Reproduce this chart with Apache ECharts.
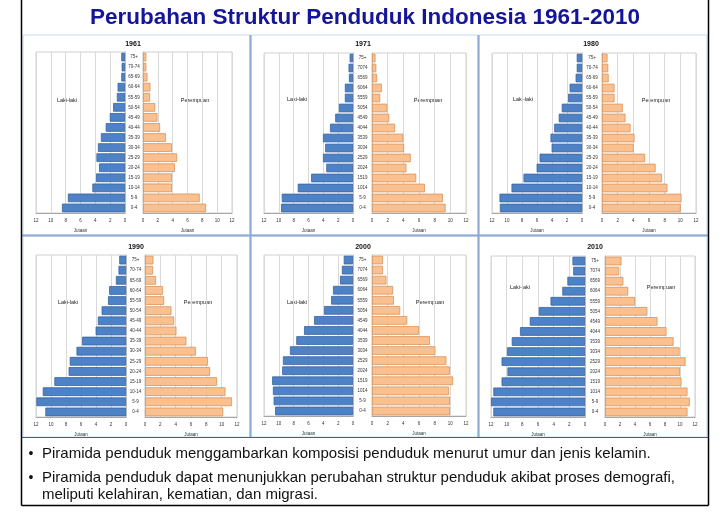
<!DOCTYPE html>
<html><head><meta charset="utf-8">
<script src="https://cdn.jsdelivr.net/npm/echarts@6/dist/echarts.min.js"></script>
<style>html,body{margin:0;padding:0;background:#fff}#c{width:728px;height:515px}</style>
</head><body><div id="c"></div>
<script>
// Age groups, bottom (0-4) to top (75+)
const catsDash = ['0-4','5-9','10-14','15-19','20-24','25-29','30-34','35-39','40-44','45-49','50-54','55-59','60-64','65-69','70-74','75+'];
const catsNoDash = ['0-4','5-9','1014','1519','2024','2529','3034','3539','4044','4549','5054','5559','6064','6569','7074','75+'];
const ticks = ['0','2','4','6','8','10','12'];
// Population in millions (Jutaan)
const m1961 = [8.5,7.7,4.4,3.9,3.5,3.85,3.65,3.25,2.6,2.05,1.6,1.1,1.0,0.5,0.45,0.5];
const f1961 = [8.5,7.65,3.9,3.9,4.3,4.6,3.9,3.1,2.3,1.95,1.65,0.95,1.0,0.6,0.45,0.45];
const m1971 = [9.7,9.6,7.45,5.65,3.6,4.05,3.75,4.05,3.1,2.4,1.9,1.1,1.1,0.55,0.6,0.45];
const f1971 = [9.4,9.05,6.75,5.65,4.4,4.95,4.1,4.0,2.95,2.2,1.95,1.05,1.25,0.65,0.55,0.45];
const m1980 = [10.95,11.0,9.4,7.8,6.05,5.65,4.05,4.2,3.7,3.1,2.7,1.85,1.65,0.85,0.7,0.7];
const f1980 = [10.05,10.15,8.35,7.65,6.85,5.5,4.05,4.15,3.65,3.0,2.65,1.6,1.6,0.85,0.8,0.7];
const m1990 = [10.75,11.95,11.1,9.55,7.65,7.5,6.6,5.85,4.05,3.75,3.25,2.4,2.25,1.35,1.0,0.9];
const f1990 = [10.2,11.35,10.5,9.4,8.5,8.2,6.65,5.4,4.1,3.8,3.45,2.5,2.35,1.45,1.05,1.1];
const m2000 = [10.5,10.7,10.8,10.9,9.55,9.45,8.5,7.65,6.6,5.25,3.9,2.95,2.7,1.75,1.5,1.25];
const f2000 = [9.95,9.95,9.85,10.35,9.95,9.5,8.1,7.4,6.0,4.5,3.6,2.8,2.7,1.85,1.4,1.4];
const m2010 = [11.7,12.0,11.7,10.65,9.9,10.65,9.95,9.35,8.3,7.05,5.9,4.4,2.9,2.25,1.5,1.6];
const f2010 = [11.0,11.3,11.0,10.2,10.0,10.75,9.95,9.15,8.2,7.0,5.65,4.0,3.1,2.45,1.9,2.2];
const years = ['1961','1971','1980','1990','2000','2010'];
const titleText = 'Perubahan Struktur Penduduk Indonesia 1961-2010';
const bullets = [
 'Piramida penduduk menggambarkan komposisi penduduk menurut umur dan jenis kelamin.',
 'Piramida penduduk dapat menunjukkan perubahan struktur penduduk akibat proses demografi,',
 'meliputi kelahiran, kematian, dan migrasi.'
];

const panels = [
 {y:years[0], cats:catsDash,   m:m1961, f:f1961, L:[36,125],  R:[143,232], top:52,  bot:213, tx:133, ty:44,  ll:[67,100],  pp:[195,100]},
 {y:years[1], cats:catsNoDash, m:m1971, f:f1971, L:[264,353], R:[372,466], top:53,  bot:213, tx:363, ty:44,  ll:[297,99],  pp:[428,100]},
 {y:years[2], cats:catsDash,   m:m1980, f:f1980, L:[492,582], R:[602,696], top:53,  bot:213, tx:591, ty:44,  ll:[523,99],  pp:[656,100]},
 {y:years[3], cats:catsDash,   m:m1990, f:f1990, L:[36,126],  R:[145,237], top:255, bot:417, tx:136, ty:247, ll:[68,302],  pp:[198,302]},
 {y:years[4], cats:catsNoDash, m:m2000, f:f2000, L:[264,353], R:[372,466], top:255, bot:416, tx:363, ty:247, ll:[297,302], pp:[430,302]},
 {y:years[5], cats:catsNoDash, m:m2010, f:f2010, L:[491,585], R:[605,695], top:256, bot:417, tx:595, ty:247, ll:[520,287], pp:[661,287]}
];

const F = 'Liberation Sans';
const grid=[], xAxis=[], yAxis=[], series=[], graphic=[];
const gridColor = '#d9d9d9';
panels.forEach((p,i)=>{
  const gi = i*2;
  grid.push({left:p.L[0], width:p.L[1]-p.L[0], top:p.top, height:p.bot-p.top});
  grid.push({left:p.R[0], width:p.R[1]-p.R[0], top:p.top, height:p.bot-p.top});
  const gap = p.R[0]-p.L[1];
  [0,1].forEach(k=>{
    xAxis.push({gridIndex:gi+k, type:'value', min:0, max:12, interval:2, inverse:k===0,
      name:'Jutaan', nameLocation:'middle', nameGap:15, nameTextStyle:{fontSize:4.5, color:'#333', fontFamily:F},
      axisLine:{show:true, lineStyle:{color:'#a6a6a6', width:1}},
      axisTick:{show:false},
      axisLabel:{fontSize:4.5, color:'#333', margin:5, fontFamily:F, formatter:v=>ticks[v/2]},
      splitLine:{show:true, lineStyle:{color:gridColor, width:1}}});
    yAxis.push({gridIndex:gi+k, type:'category', data:p.cats, position:k===0?'right':'left',
      axisLine:{show:true, lineStyle:{color:'#bfbfbf'}}, axisTick:{show:false},
      axisLabel:{show:k===0, fontSize:4.5, color:'#333', align:'center', margin:gap/2, fontFamily:F}});
  });
  series.push({type:'bar', xAxisIndex:gi, yAxisIndex:gi, data:p.m, barCategoryGap:'14%',
    itemStyle:{color:'#4d82c6', borderColor:'#3a64a0', borderWidth:0.8}, silent:true});
  series.push({type:'bar', xAxisIndex:gi+1, yAxisIndex:gi+1, data:p.f, barCategoryGap:'14%',
    itemStyle:{color:'#fac08f', borderColor:'#d9935a', borderWidth:0.8}, silent:true});
  graphic.push({type:'rect', shape:{x:p.L[0], y:p.top, width:p.L[1]-p.L[0], height:p.bot-p.top}, style:{fill:null, stroke:'#d0d0d0', lineWidth:1}, silent:true, z:-1});
  graphic.push({type:'rect', shape:{x:p.R[0], y:p.top, width:p.R[1]-p.R[0], height:p.bot-p.top}, style:{fill:null, stroke:'#d0d0d0', lineWidth:1}, silent:true, z:-1});
  graphic.push({type:'text', x:p.tx, y:p.ty, style:{text:p.y, font:'bold 7px '+F, fill:'#111', textAlign:'center', textVerticalAlign:'middle'}});
  graphic.push({type:'text', x:p.ll[0], y:p.ll[1], style:{text:'Laki-laki', font:'5.5px '+F, fill:'#222', textAlign:'center', textVerticalAlign:'middle'}});
  graphic.push({type:'text', x:p.pp[0], y:p.pp[1], style:{text:'Perempuan', font:'5.5px '+F, fill:'#222', textAlign:'center', textVerticalAlign:'middle'}});
});

[[23,35,227,200],[251,35,227,200],[479,35,228,200],[23,236,227,201],[251,236,227,201],[479,236,228,201]].forEach(r=>{
  graphic.push({type:'rect', shape:{x:r[0], y:r[1], width:r[2], height:r[3]}, style:{fill:null, stroke:'#c6d9f0', lineWidth:1}, silent:true, z:-2});
});
graphic.push({type:'line', shape:{x1:250.5,y1:35,x2:250.5,y2:437}, style:{stroke:'#8eaad6', lineWidth:2}, silent:true});
graphic.push({type:'line', shape:{x1:478.5,y1:35,x2:478.5,y2:437}, style:{stroke:'#8eaad6', lineWidth:2}, silent:true});
graphic.push({type:'line', shape:{x1:22,y1:235.5,x2:708,y2:235.5}, style:{stroke:'#8eaad6', lineWidth:2}, silent:true});
graphic.push({type:'line', shape:{x1:22,y1:437.5,x2:708,y2:437.5}, style:{stroke:'#3f5f9f', lineWidth:1.2}, silent:true});
graphic.push({type:'line', shape:{x1:21.5,y1:0,x2:21.5,y2:505.5}, style:{stroke:'#000', lineWidth:1.5}, silent:true});
graphic.push({type:'line', shape:{x1:708.5,y1:0,x2:708.5,y2:505.5}, style:{stroke:'#000', lineWidth:1.5}, silent:true});
graphic.push({type:'line', shape:{x1:21.5,y1:505.5,x2:708.5,y2:505.5}, style:{stroke:'#000', lineWidth:1.5}, silent:true});
graphic.push({type:'text', x:365, y:18, style:{text:titleText, font:'bold 22.5px '+F, fill:'#15159a', textAlign:'center', textVerticalAlign:'middle'}});
const by = [454, 478, 495];
bullets.forEach((t,i)=>{
  if(i<2) graphic.push({type:'text', x:31, y:by[i], style:{text:'•', font:'14px '+F, fill:'#111', textAlign:'center', textVerticalAlign:'middle'}});
  graphic.push({type:'text', x:42, y:by[i], style:{text:t, font:'15px '+F, fill:'#111', textAlign:'left', textVerticalAlign:'middle'}});
});

const chart = echarts.init(document.getElementById('c'));
chart.setOption({animation:false, backgroundColor:'#fff', grid, xAxis, yAxis, series, graphic});
</script></body></html>
